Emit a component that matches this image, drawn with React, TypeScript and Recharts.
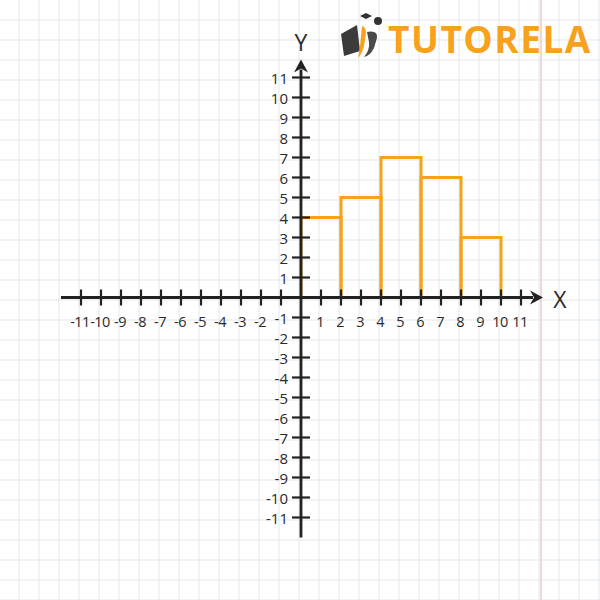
import { ComposedChart, Line, Scatter, XAxis, YAxis, CartesianGrid, ReferenceLine } from 'recharts'

// histogram bins
const binStarts = [0, 2, 4, 6, 8]
const binEnds = [2, 4, 6, 8, 10]
const binHeights = [4, 5, 7, 6, 3]

const xTicks = [-11, -10, -9, -8, -7, -6, -5, -4, -3, -2, -1, 1, 2, 3, 4, 5, 6, 7, 8, 9, 10, 11]
const yTicks = [-11, -10, -9, -8, -7, -6, -5, -4, -3, -2, -1, 1, 2, 3, 4, 5, 6, 7, 8, 9, 10, 11]

const ORANGE = '#F7A11C'
const INK = '#222'
const FONT = '"Open Sans", "DejaVu Sans", sans-serif'

const gridXs = Array.from({ length: 30 }, (_, i) => 19 + i * 20)
const gridYs = Array.from({ length: 30 }, (_, i) => 20 + i * 20)

// -1 on the x axis shares its spot with -1 on the y axis, so it is written once
const xTickData = xTicks.map(v => ({ x: v, y: 0, label: v === -1 ? '' : String(v) }))
const yTickData = yTicks.map(v => ({ x: 0, y: v, label: String(v) }))

const bins = binStarts.map((s, i) => [
  { x: s, y: 0 },
  { x: s, y: binHeights[i] },
  { x: binEnds[i], y: binHeights[i] },
  { x: binEnds[i], y: 0 },
])

const XTick = (p: any) => (
  <g>
    <line x1={p.cx} x2={p.cx} y1={p.cy - 8} y2={p.cy + 8} stroke={INK} strokeWidth={2.2} />
    <text
      x={p.cx - 1}
      y={p.cy + 24}
      textAnchor="middle"
      dominantBaseline="central"
      fontSize={14.5}
      letterSpacing={-0.6}
      fill="#2a2a2a"
      fontFamily={FONT}
    >
      {p.payload.label}
    </text>
  </g>
)

const YTick = (p: any) => (
  <g>
    <line x1={p.cx - 9} x2={p.cx + 9} y1={p.cy} y2={p.cy} stroke={INK} strokeWidth={2.2} />
    <text x={p.cx - 13} y={p.cy} textAnchor="end" dominantBaseline="central" fontSize={15} fill="#2a2a2a" fontFamily={FONT}>
      {p.payload.label}
    </text>
  </g>
)

const ArrowRight = (p: any) => (
  <path d={`M${p.cx},${p.cy} L${p.cx - 13},${p.cy - 7} L${p.cx - 9},${p.cy} L${p.cx - 13},${p.cy + 7} Z`} fill={INK} />
)
const ArrowUp = (p: any) => (
  <path d={`M${p.cx},${p.cy} L${p.cx - 7},${p.cy + 13} L${p.cx},${p.cy + 9} L${p.cx + 7},${p.cy + 13} Z`} fill={INK} />
)
const AxisName = (p: any) => (
  <text x={p.cx} y={p.cy} textAnchor="middle" dominantBaseline="central" fontSize={23} fill="#2a2a2a" fontFamily={FONT}>
    {p.payload.name}
  </text>
)

function Logo() {
  return (
    <svg width={600} height={70} style={{ position: 'absolute', left: 0, top: 0 }}>
      <path d="M341,34 L357,25 L360,51 L344,56 Z" fill="#3b3b3b" />
      <path d="M362,26 Q366,27 366,33 L364,46 Q362,54 358,58 L360,46 Z" fill={ORANGE} />
      <path d="M367,32 Q378,30 377,38 L374,48 Q370,56 364,57 Q370,50 369,42 Z" fill="#4a4a4a" />
      <circle cx={378} cy={21} r={4} fill="#333" />
      <path d="M360,16 L366,13 L372,16 L366,19 Z" fill="#333" />
      <text x={388} y={53} fontSize={37} fontWeight={700} fill={ORANGE} fontFamily={FONT} letterSpacing={1.5}>
        TUTORELA
      </text>
    </svg>
  )
}

export default function App() {
  return (
    <div style={{ position: 'absolute', left: 0, top: 0, width: 600, height: 600, background: '#fff' }}>
      <ComposedChart width={600} height={600} margin={{ top: 0, right: 0, bottom: 0, left: 0 }}>
        <CartesianGrid
          stroke="#e4e7eb"
          strokeWidth={1}
          verticalCoordinatesGenerator={() => gridXs}
          horizontalCoordinatesGenerator={() => gridYs}
        />
        <XAxis type="number" dataKey="x" domain={[-15.05, 14.95]} allowDataOverflow hide />
        <YAxis type="number" dataKey="y" domain={[-15.125, 14.875]} allowDataOverflow hide />
        <ReferenceLine x={12} stroke="#ecc8cb" strokeWidth={1.5} />
        {bins.map((b, i) => (
          <Line
            key={i}
            data={b}
            dataKey="y"
            stroke={ORANGE}
            strokeWidth={3}
            dot={false}
            type="linear"
            isAnimationActive={false}
          />
        ))}
        <Line data={[{ x: -12, y: 0 }, { x: 11.6, y: 0 }]} dataKey="y" stroke={INK} strokeWidth={2.8} dot={false} isAnimationActive={false} />
        <Line data={[{ x: 0, y: -12 }, { x: 0, y: 11.4 }]} dataKey="y" stroke={INK} strokeWidth={2.8} dot={false} isAnimationActive={false} />
        <Scatter data={xTickData} shape={XTick} isAnimationActive={false} />
        <Scatter data={yTickData} shape={YTick} isAnimationActive={false} />
        <Scatter data={[{ x: 12.1, y: 0 }]} shape={ArrowRight} isAnimationActive={false} />
        <Scatter data={[{ x: 0, y: 11.9 }]} shape={ArrowUp} isAnimationActive={false} />
        <Scatter data={[{ x: 12.95, y: -0.07, name: 'X' }, { x: 0, y: 12.8, name: 'Y' }]} shape={AxisName} isAnimationActive={false} />
      </ComposedChart>
      <Logo />
    </div>
  )
}
